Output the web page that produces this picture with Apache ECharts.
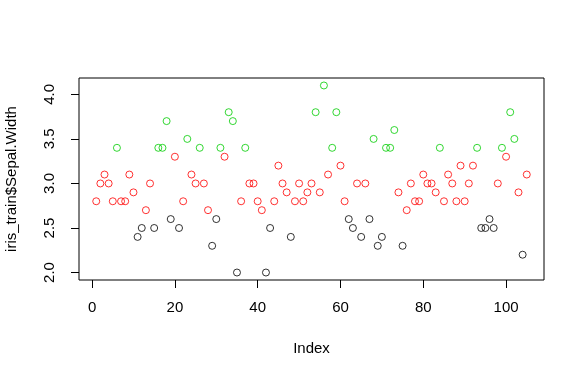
<!DOCTYPE html>
<html>
<head>
<meta charset="utf-8">
<script src="https://cdn.jsdelivr.net/npm/echarts@6/dist/echarts.min.js"></script>
<style>
  html, body { margin: 0; padding: 0; background: #fff; }
  #chart { width: 585px; height: 378px; }
</style>
</head>
<body>
<div id="chart"></div>
<script>
// iris_train$Sepal.Width, in row order (index 1..105)
var sepalWidth = [
  2.8, 3.0, 3.1, 3.0, 2.8, 3.4, 2.8, 2.8, 3.1, 2.9,
  2.4, 2.5, 2.7, 3.0, 2.5, 3.4, 3.4, 3.7, 2.6, 3.3,
  2.5, 2.8, 3.5, 3.1, 3.0, 3.4, 3.0, 2.7, 2.3, 2.6,
  3.4, 3.3, 3.8, 3.7, 2.0, 2.8, 3.4, 3.0, 3.0, 2.8,
  2.7, 2.0, 2.5, 2.8, 3.2, 3.0, 2.9, 2.4, 2.8, 3.0,
  2.8, 2.9, 3.0, 3.8, 2.9, 4.1, 3.1, 3.4, 3.8, 3.2,
  2.8, 2.6, 2.5, 3.0, 2.4, 3.0, 2.6, 3.5, 2.3, 2.4,
  3.4, 3.4, 3.6, 2.9, 2.3, 2.7, 3.0, 2.8, 2.8, 3.1,
  3.0, 3.0, 2.9, 3.4, 2.8, 3.1, 3.0, 2.8, 3.2, 2.8,
  3.0, 3.2, 3.4, 2.5, 2.5, 2.6, 2.5, 3.0, 3.4, 3.3,
  3.8, 3.5, 2.9, 2.2, 3.1
]
// colour group of each row: b = black, r = red, g = green
var group = (
  'rrrrrgrrrr' + 'bbrrbgggbr' + 'brgrrgrrbb' + 'grggbrgrrr' +
  'rbbrrrrbrr' + 'rrrgrgrggr' + 'rbbrbrbgbb' + 'gggrbrrrrr' +
  'rrrgrrrrrr' + 'rrgbbbbrgr' + 'ggrbr'
).split('')

var groups = ['b', 'r', 'g']
var groupColors = { b: '#000000', r: '#FF0000', g: '#00CD00' }

var xTicks = [0, 20, 40, 60, 80, 100]
var yTicks = [2.0, 2.5, 3.0, 3.5, 4.0]

var myChart = echarts.init(document.getElementById('chart'))

var font = 'Liberation Sans, Arial, sans-serif'

var series = groups.map(function (g) {
  var data = []
  sepalWidth.forEach(function (v, i) {
    if (group[i] === g) data.push([i + 1, v])
  })
  return {
    type: 'scatter',
    symbol: 'circle',
    symbolSize: 7,
    itemStyle: {
      color: 'rgba(0,0,0,0)',
      borderColor: groupColors[g],
      borderWidth: 1,
    },
    emphasis: { disabled: true },
    data: data,
  }
})

var option = {
  animation: false,
  backgroundColor: '#fff',
  grid: {
    show: true,
    left: 79,
    right: 41,
    top: 78,
    bottom: 98,
    outerBoundsMode: 'none',
    containLabel: false,
    borderColor: '#000',
    borderWidth: 1,
    backgroundColor: 'rgba(0,0,0,0)',
  },
  xAxis: {
    type: 'value',
    min: -3.16,
    max: 109.16,
    name: 'Index',
    nameLocation: 'middle',
    nameGap: 61,
    nameTextStyle: { color: '#000', fontSize: 15, fontFamily: font },
    axisLine: { show: false, onZero: false },
    splitLine: { show: false },
    axisTick: {
      show: true,
      inside: false,
      length: 8,
      customValues: xTicks,
      lineStyle: { color: '#000', width: 1 },
    },
    axisLabel: {
      customValues: xTicks,
      margin: 20,
      color: '#000',
      fontSize: 15,
      fontFamily: font,
      formatter: function (v) { return String(v) },
    },
  },
  yAxis: {
    type: 'value',
    min: 1.916,
    max: 4.184,
    name: 'iris_train$Sepal.Width',
    nameLocation: 'middle',
    nameGap: 60,
    nameTextStyle: { color: '#000', fontSize: 15, fontFamily: font },
    axisLine: { show: false, onZero: false },
    splitLine: { show: false },
    axisTick: {
      show: true,
      inside: false,
      length: 8,
      customValues: yTicks,
      lineStyle: { color: '#000', width: 1 },
    },
    axisLabel: {
      customValues: yTicks,
      rotate: 90,
      margin: 22,
      color: '#000',
      fontSize: 15,
      fontFamily: font,
      formatter: function (v) { return Number(v).toFixed(1) },
    },
  },
  series: series,
}

myChart.setOption(option)
</script>
</body>
</html>
